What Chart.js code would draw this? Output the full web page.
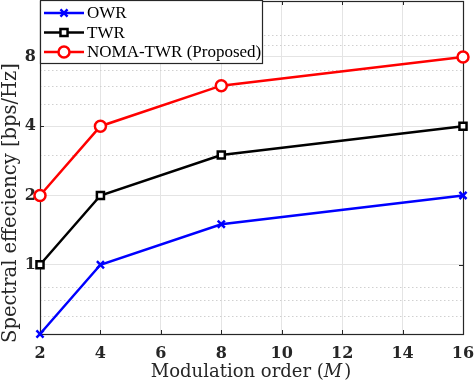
<!DOCTYPE html>
<html>
<head>
<meta charset="utf-8">
<script src="https://cdn.jsdelivr.net/npm/chart.js@4"></script>
<style>
  html, body { margin: 0; padding: 0; background: #fff; }
  #wrap { width: 474px; height: 387px; position: relative; }
</style>
</head>
<body>
<div id="wrap"><canvas id="chart" width="474" height="387"></canvas></div>
<script>
const modOrders = [2, 4, 8, 16];
const owr = [0.5, 1, 1.5, 2];
const twr = [1, 2, 3, 4];
const nomaTwr = [2, 4, 6, 8];
const xTicks = [2, 4, 6, 8, 10, 12, 14, 16];
const yTicks = [1, 2, 4, 8];
const yMinorTicks = [0.6, 0.7, 0.8, 3, 5, 6, 7, 9, 10];

const xTitle = ["Modulation order (", "M", ")"];
const yTitle = "Spectral effeciency [bps/Hz]";

const serif = "'Liberation Serif', 'DejaVu Serif', serif";
const wideSerif = "'DejaVu Serif', serif";

const seriesList = [
  { label: "OWR", data: owr, color: "#0000ff", point: "crossRot", radius: 5 },
  { label: "TWR", data: twr, color: "#000000", point: "rect", radius: 5 },
  { label: "NOMA-TWR (Proposed)", data: nomaTwr, color: "#ff0000", point: "circle", radius: 5.5 },
];

// dotted minor grid, axes box, axis titles and legend
const boxPlugin = {
  id: "boxPlugin",
  beforeDatasetsDraw(chart) {
    const { ctx, chartArea: a, scales } = chart;
    ctx.save();
    ctx.strokeStyle = "#d0d0d0";
    ctx.lineWidth = 1;
    ctx.setLineDash([1.5, 2.5]);
    yMinorTicks.forEach((v) => {
      const y = Math.round(scales.y.getPixelForValue(v)) + 0.5;
      ctx.beginPath();
      ctx.moveTo(a.left, y);
      ctx.lineTo(a.right, y);
      ctx.stroke();
    });
    ctx.setLineDash([]);
    ctx.strokeStyle = "#262626";
    xTicks.forEach((v) => {
      const x = Math.round(scales.x.getPixelForValue(v)) + 0.5;
      ctx.beginPath();
      ctx.moveTo(x, a.bottom);
      ctx.lineTo(x, a.bottom - 4);
      ctx.moveTo(x, a.top);
      ctx.lineTo(x, a.top + 4);
      ctx.stroke();
    });
    yTicks.forEach((v) => {
      const y = Math.round(scales.y.getPixelForValue(v)) + 0.5;
      ctx.beginPath();
      ctx.moveTo(a.left, y);
      ctx.lineTo(a.left + 4, y);
      ctx.moveTo(a.right, y);
      ctx.lineTo(a.right - 4, y);
      ctx.stroke();
    });
    ctx.lineWidth = 1.2;
    ctx.strokeRect(a.left + 0.5, a.top + 0.5, a.right - a.left, a.bottom - a.top);
    ctx.restore();
  },
  afterDraw(chart) {
    const { ctx, chartArea: a } = chart;
    ctx.save();

    // axis titles
    ctx.fillStyle = "#262626";
    ctx.textBaseline = "middle";
    const fonts = ["18px " + wideSerif, "italic 18px " + wideSerif, "18px " + wideSerif];
    let total = 0;
    xTitle.forEach((t, i) => { ctx.font = fonts[i]; total += ctx.measureText(t).width + (i === 1 ? 2 : 0); });
    let tx = 251 - total / 2;
    xTitle.forEach((t, i) => {
      ctx.font = fonts[i];
      ctx.fillText(t, tx, 372);
      tx += ctx.measureText(t).width + (i === 1 ? 2 : 0);
    });
    ctx.save();
    ctx.translate(11, 203);
    ctx.rotate(-Math.PI / 2);
    ctx.font = "19.5px " + wideSerif;
    ctx.textAlign = "center";
    ctx.fillText(yTitle, 0, 0);
    ctx.restore();

    // legend
    const bx = a.left, by = 0, bw = 222, bh = 63;
    ctx.fillStyle = "#fff";
    ctx.fillRect(bx, by, bw, bh);
    ctx.strokeStyle = "#262626";
    ctx.lineWidth = 1.2;
    ctx.strokeRect(bx + 0.5, by + 0.5, bw, bh);
    seriesList.forEach((s, i) => {
      const y = 13 + i * 19.5;
      ctx.strokeStyle = s.color;
      ctx.lineWidth = 2.5;
      ctx.beginPath();
      ctx.moveTo(bx + 4, y);
      ctx.lineTo(bx + 44, y);
      ctx.stroke();
      ctx.fillStyle = "#fff";
      Chart.helpers.drawPoint(ctx, {
        pointStyle: s.point, radius: s.radius, rotation: 0, borderWidth: 2.5
      }, bx + 24, y);
      ctx.fillStyle = "#000";
      ctx.font = "17px " + serif;
      ctx.textAlign = "left";
      ctx.textBaseline = "middle";
      ctx.fillText(s.label, bx + 47, y + 1);
    });
    ctx.restore();
  },
};

new Chart(document.getElementById("chart"), {
  type: "line",
  data: {
    datasets: seriesList.map((s) => ({
      label: s.label,
      data: modOrders.map((m, i) => ({ x: m, y: s.data[i] })),
      borderColor: s.color,
      backgroundColor: "#fff",
      borderWidth: 2.5,
      pointStyle: s.point,
      pointRadius: s.radius,
      pointBorderWidth: 2.5,
      pointBorderColor: s.color,
      pointBackgroundColor: "#fff",
      tension: 0,
      clip: false,
    })),
  },
  options: {
    responsive: false,
    animation: false,
    events: [],
    layout: { autoPadding: false, padding: { top: 1, right: 11, left: 0, bottom: 0 } },
    plugins: { legend: { display: false }, tooltip: { enabled: false } },
    scales: {
      x: {
        type: "linear",
        min: 2,
        max: 16,
        afterBuildTicks: (s) => { s.ticks = xTicks.map((v) => ({ value: v })); },
        afterFit: (s) => { s.height = 53; s.paddingLeft = 0; s.paddingRight = 0; },
        grid: { color: "#e4e4e4", drawTicks: false },
        border: { display: false },
        ticks: {
          padding: 10,
          color: "#262626",
          font: { family: wideSerif, size: 16, weight: "bold" },
        },
      },
      y: {
        type: "logarithmic",
        min: 0.5,
        max: 14,
        afterBuildTicks: (s) => { s.ticks = yTicks.map((v) => ({ value: v })); },
        afterFit: (s) => { s.width = 40; s.paddingTop = 0; s.paddingBottom = 0; },
        grid: { color: "#e4e4e4", drawTicks: false },
        border: { display: false },
        ticks: {
          padding: 4,
          color: "#262626",
          callback: (v) => String(v),
          font: { family: wideSerif, size: 16, weight: "bold" },
        },
      },
    },
  },
  plugins: [boxPlugin],
});
</script>
</body>
</html>
